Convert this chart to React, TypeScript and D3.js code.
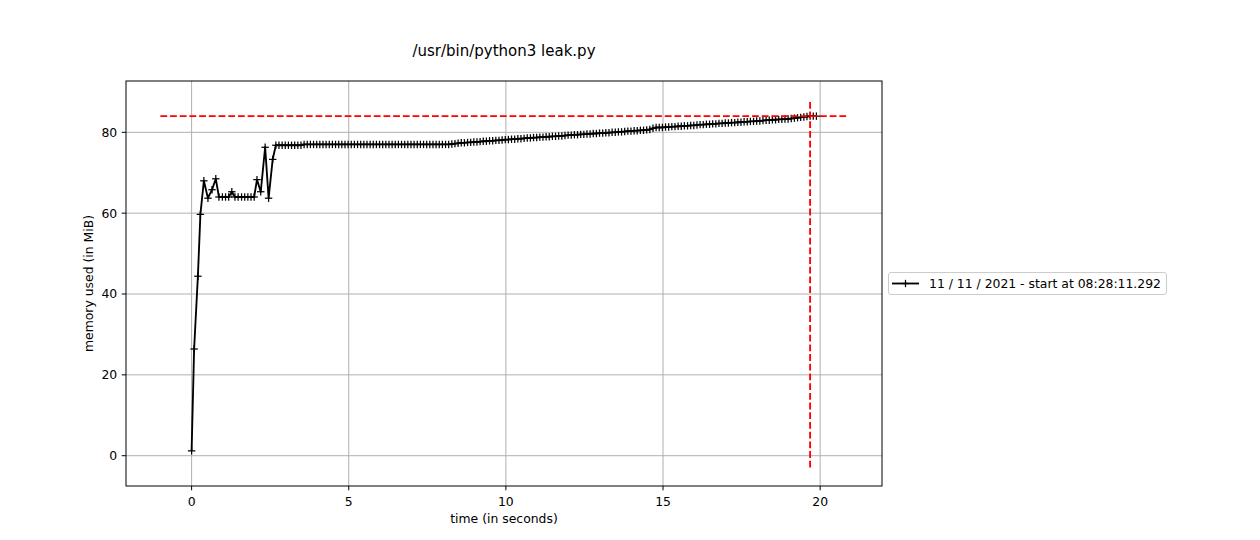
import React from "react";
import * as d3 from "d3";

const title = "/usr/bin/python3 leak.py";
const xLabel = "time (in seconds)";
const yLabel = "memory used (in MiB)";
const legendLabel = "11 / 11 / 2021 - start at 08:28:11.292";
const xTicks = [0, 5, 10, 15, 20];
const yTicks = [0, 20, 40, 60, 80];

const times = [
  0.0, 0.08, 0.2, 0.28, 0.39, 0.52, 0.65, 0.77, 0.87, 0.98, 1.08, 1.18, 1.28, 1.38, 1.48, 1.59, 1.69, 1.79, 1.89, 1.99,
  2.08, 2.2, 2.34, 2.45, 2.58,
  2.68, 2.78, 2.88, 2.98, 3.08, 3.18, 3.28, 3.38, 3.48,
  3.58, 3.68, 3.78, 3.88, 3.98, 4.08, 4.18, 4.28, 4.38, 4.48, 4.58, 4.68, 4.78, 4.88, 4.98, 5.08, 5.18, 5.28, 5.38, 5.48,
  5.58, 5.68, 5.78, 5.88, 5.98, 6.08, 6.18, 6.28, 6.38, 6.48, 6.58, 6.68, 6.78, 6.88, 6.98, 7.08, 7.18, 7.28, 7.38, 7.48,
  7.58, 7.68, 7.78, 7.88, 7.98, 8.08, 8.18,
  8.28, 8.38, 8.48, 8.58, 8.68, 8.78, 8.88, 8.98, 9.08, 9.18, 9.28, 9.38, 9.48, 9.58, 9.68, 9.78, 9.88, 9.98,
  10.08, 10.18, 10.28, 10.38, 10.48, 10.58, 10.68, 10.78, 10.88, 10.98, 11.08, 11.18, 11.28, 11.38, 11.48, 11.58, 11.68, 11.78, 11.88, 11.98,
  12.08, 12.18, 12.28, 12.38, 12.48, 12.58, 12.68, 12.78, 12.88, 12.98, 13.08, 13.18, 13.28, 13.38, 13.48, 13.58, 13.68, 13.78, 13.88, 13.98,
  14.08, 14.18, 14.28, 14.38, 14.48, 14.58, 14.68, 14.78, 14.88, 14.98, 15.08, 15.18, 15.28, 15.38, 15.48, 15.58, 15.68, 15.78, 15.88, 15.98,
  16.08, 16.18, 16.28, 16.38, 16.48, 16.58, 16.68, 16.78, 16.88, 16.98, 17.08, 17.18, 17.28, 17.38, 17.48, 17.58, 17.68, 17.78, 17.88, 17.98,
  18.08, 18.18, 18.28, 18.38, 18.48, 18.58, 18.68, 18.78, 18.88, 18.98, 19.08, 19.18, 19.28, 19.38, 19.48, 19.58, 19.68, 19.78, 19.88,
];

const memory = [
  1.2, 26.4, 44.4, 59.7, 68.0, 63.7, 65.8, 68.5, 64.0, 64.0, 64.0, 64.0, 65.3, 64.0, 64.0, 64.0, 64.0, 64.0, 64.0, 64.0,
  68.3, 65.3, 76.3, 63.7, 73.3,
  76.8, 76.8, 76.8, 76.8, 76.8, 76.8, 76.8, 76.8, 76.8,
  77.0, 77.0, 77.0, 77.0, 77.0, 77.0, 77.0, 77.0, 77.0, 77.0, 77.0, 77.0, 77.0, 77.0, 77.0, 77.0, 77.0, 77.0, 77.0, 77.0,
  77.0, 77.0, 77.0, 77.0, 77.0, 77.0, 77.0, 77.0, 77.0, 77.0, 77.0, 77.0, 77.0, 77.0, 77.0, 77.0, 77.0, 77.0, 77.0, 77.0,
  77.0, 77.0, 77.0, 77.0, 77.0, 77.0, 77.0,
  77.1, 77.2, 77.3, 77.4, 77.4, 77.5, 77.5, 77.6, 77.6, 77.7, 77.8, 77.8, 77.9, 77.9, 78.0, 78.0, 78.1, 78.2,
  78.2, 78.3, 78.3, 78.4, 78.4, 78.5, 78.6, 78.6, 78.7, 78.7, 78.8, 78.8, 78.9, 78.9, 79.0, 79.0, 79.1, 79.1, 79.2, 79.3,
  79.3, 79.4, 79.4, 79.5, 79.5, 79.6, 79.6, 79.7, 79.7, 79.8, 79.8, 79.9, 79.9, 80.0, 80.0, 80.1, 80.1, 80.2, 80.3, 80.3,
  80.4, 80.4, 80.5, 80.5, 80.6, 80.7, 81.0, 81.2, 81.2, 81.2, 81.3, 81.3, 81.4, 81.4, 81.5, 81.5, 81.6, 81.6, 81.7, 81.7,
  81.8, 81.9, 81.9, 82.0, 82.0, 82.1, 82.1, 82.2, 82.2, 82.3, 82.3, 82.4, 82.4, 82.5, 82.5, 82.6, 82.6, 82.7, 82.7, 82.8,
  82.8, 82.9, 83.0, 83.0, 83.1, 83.1, 83.2, 83.2, 83.3, 83.3, 83.4, 83.5, 83.6, 83.7, 83.8, 83.9, 84.0, 84.0, 84.0,
];

const W = 1260;
const H = 540;
const plot = { left: 126, right: 882, top: 81, bottom: 486 };
const FONT = "'DejaVu Sans', sans-serif";

export default function App() {
  const n = Math.min(times.length, memory.length);
  const pts = d3.range(n).map((i) => ({ t: times[i], m: memory[i] }));

  // matplotlib-like autoscale: data (5% margins) -> max lines -> final 5% margins
  const tExt = d3.extent(pts, (d) => d.t) as [number, number];
  const mExt = d3.extent(pts, (d) => d.m) as [number, number];
  const tPad = (tExt[1] - tExt[0]) * 0.05;
  const mPad = (mExt[1] - mExt[0]) * 0.05;
  const hl0 = tExt[0] - tPad;
  const hl1 = tExt[1] + tPad;
  const vl0 = mExt[0] - mPad;
  const vl1 = mExt[1] + mPad;
  const maxIdx = d3.maxIndex(pts, (d) => d.m);
  const maxMem = pts[maxIdx].m;
  const maxT = pts[maxIdx].t;

  const xPad2 = (hl1 - hl0) * 0.05;
  const yPad2 = (vl1 - vl0) * 0.05;
  const x = d3.scaleLinear().domain([hl0 - xPad2, hl1 + xPad2]).range([plot.left, plot.right]);
  const y = d3.scaleLinear().domain([vl0 - yPad2, vl1 + yPad2]).range([plot.bottom, plot.top]);

  const line = d3
    .line<{ t: number; m: number }>()
    .x((d) => x(d.t))
    .y((d) => y(d.m));

  const ms = 3.7;
  const cx = (plot.left + plot.right) / 2;
  const cy = (plot.top + plot.bottom) / 2;
  const legY = 283.5;

  return (
    <svg
      width={W}
      height={H}
      style={{ position: "absolute", left: 0, top: 0, background: "#fff" }}
      fontFamily={FONT}
    >
      <rect x={0} y={0} width={W} height={H} fill="#fff" />
      <defs>
        <clipPath id="plotclip">
          <rect x={plot.left} y={plot.top} width={plot.right - plot.left} height={plot.bottom - plot.top} />
        </clipPath>
      </defs>
      {/* grid */}
      <g stroke="#b0b0b0" strokeWidth={1}>
        {xTicks.map((t) => (
          <line key={"gx" + t} x1={x(t)} x2={x(t)} y1={plot.top} y2={plot.bottom} />
        ))}
        {yTicks.map((t) => (
          <line key={"gy" + t} x1={plot.left} x2={plot.right} y1={y(t)} y2={y(t)} />
        ))}
      </g>
      <g clipPath="url(#plotclip)">
        <path d={line(pts) || ""} fill="none" stroke="#000" strokeWidth={1.85} strokeLinejoin="round" />
        <g stroke="#000" strokeWidth={1.25}>
          {pts.map((d, i) => (
            <g key={i}>
              <line x1={x(d.t) - ms} x2={x(d.t) + ms} y1={y(d.m)} y2={y(d.m)} />
              <line x1={x(d.t)} x2={x(d.t)} y1={y(d.m) - ms} y2={y(d.m) + ms} />
            </g>
          ))}
        </g>
        <line
          x1={x(maxT)}
          x2={x(maxT)}
          y1={y(vl0)}
          y2={y(vl1)}
          stroke="#ff0000"
          strokeWidth={1.85}
          strokeDasharray="6.8,2.9"
        />
        <line
          x1={x(hl0)}
          x2={x(hl1)}
          y1={y(maxMem)}
          y2={y(maxMem)}
          stroke="#ff0000"
          strokeWidth={1.85}
          strokeDasharray="6.8,2.9"
        />
      </g>
      {/* spines */}
      <rect
        x={plot.left}
        y={plot.top}
        width={plot.right - plot.left}
        height={plot.bottom - plot.top}
        fill="none"
        stroke="#000"
        strokeWidth={1}
      />
      {/* x ticks */}
      <g fontSize={12.4} fill="#000">
        {xTicks.map((t) => (
          <g key={"xt" + t}>
            <line x1={x(t)} x2={x(t)} y1={plot.bottom} y2={plot.bottom + 4.3} stroke="#000" strokeWidth={1} />
            <text x={x(t)} y={505.5} textAnchor="middle">
              {t}
            </text>
          </g>
        ))}
        {yTicks.map((t) => (
          <g key={"yt" + t}>
            <line x1={plot.left - 4.3} x2={plot.left} y1={y(t)} y2={y(t)} stroke="#000" strokeWidth={1} />
            <text x={plot.left - 8.8} y={y(t) + 4.4} textAnchor="end">
              {t}
            </text>
          </g>
        ))}
      </g>
      <text x={cx} y={523} textAnchor="middle" fontSize={12.4} fill="#000">
        {xLabel}
      </text>
      <text
        transform={`translate(93,${cy}) rotate(-90)`}
        textAnchor="middle"
        fontSize={12.4}
        fill="#000"
      >
        {yLabel}
      </text>
      <text x={cx} y={56} textAnchor="middle" fontSize={15} fill="#000">
        {title}
      </text>
      {/* legend */}
      <g>
        <rect x={888.5} y={272.5} width={278} height={22} rx={2.5} fill="#fff" fillOpacity={0.8} stroke="#cccccc" strokeWidth={1} />
        <line x1={892} x2={919} y1={legY} y2={legY} stroke="#000" strokeWidth={1.85} />
        <line x1={905.5 - ms} x2={905.5 + ms} y1={legY} y2={legY} stroke="#000" strokeWidth={1.25} />
        <line x1={905.5} x2={905.5} y1={legY - ms} y2={legY + ms} stroke="#000" strokeWidth={1.25} />
        <text x={929} y={legY + 4.4} fontSize={12.4} fill="#000">
          {legendLabel}
        </text>
      </g>
    </svg>
  );
}
